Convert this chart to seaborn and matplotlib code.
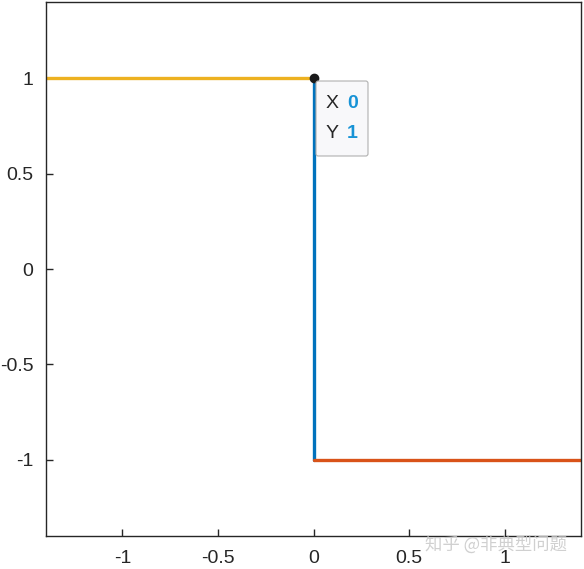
import matplotlib
matplotlib.use("Agg")
import matplotlib.pyplot as plt
import seaborn as sns
import pandas as pd
from matplotlib.patches import FancyBboxPatch

sns.set_style("white")
plt.rcParams['font.family'] = ['Liberation Sans', 'Noto Sans CJK SC', 'DejaVu Sans']

# segments of the step
left_x = [-1.4, 0]
left_y = [1, 1]
mid_x = [0, 0]
mid_y = [-1, 1]
right_x = [0, 1.4]
right_y = [-1, -1]

tip_x = 0
tip_y = 1

xticks = [-1, -0.5, 0, 0.5, 1]
yticks = [-1, -0.5, 0, 0.5, 1]

fig = plt.figure(figsize=(5.84, 5.69), dpi=100)
ax = fig.add_axes([46/584, 33/569, 535/584, 534/569])

sns.lineplot(x=mid_x, y=mid_y, ax=ax, color="#0072BD", lw=2.4, estimator=None, sort=False)
sns.lineplot(x=right_x, y=right_y, ax=ax, color="#D95319", lw=2.4, estimator=None, sort=False)
sns.lineplot(x=left_x, y=left_y, ax=ax, color="#EDB120", lw=2.4, estimator=None, sort=False)
ax.plot([tip_x], [tip_y], 'o', color="#1a1a1a", ms=6, zorder=5)

ax.set_xlim(-1.4, 1.4)
ax.set_ylim(-1.4, 1.4)
ax.set_xticks(xticks)
ax.set_xticklabels(["-1", "-0.5", "0", "0.5", "1"])
ax.set_yticks(yticks)
ax.set_yticklabels(["-1", "-0.5", "0", "0.5", "1"])
ax.tick_params(direction="in", length=5, width=1, colors="#262626", labelsize=14,
               top=False, right=False, bottom=True, left=True)
ax.tick_params(axis="x", pad=10)
ax.tick_params(axis="y", pad=9)
for sp in ax.spines.values():
    sp.set_color("#262626")
    sp.set_linewidth(1)

# data tip
box = FancyBboxPatch((316/584, (569-156)/569), 52/584, 75/569, boxstyle="round,pad=0,rounding_size=0.004",
                     transform=fig.transFigure, facecolor="#f8f8fa", edgecolor="#b0b0b0", lw=0.8, zorder=6)
fig.patches.append(box)
fig.text(326/584, 1 - 104/569, "X", fontsize=14, color="#262626", va="center", zorder=7)
fig.text(347/584, 1 - 104/569, "0", fontsize=14, color="#1793d6", fontweight="bold", va="center", zorder=7)
fig.text(326/584, 1 - 133/569, "Y", fontsize=14, color="#262626", va="center", zorder=7)
fig.text(347/584, 1 - 133/569, "1", fontsize=14, color="#1793d6", fontweight="bold", va="center", zorder=7)

# watermark
fig.text(425/584, 1 - 545/569, "知乎 @非典型问题", fontsize=12.5, color="#c8c8c8",
         family=['Noto Sans CJK SC', 'DejaVu Sans'], va="center", alpha=0.85)

fig.savefig("out.png", dpi=100)
